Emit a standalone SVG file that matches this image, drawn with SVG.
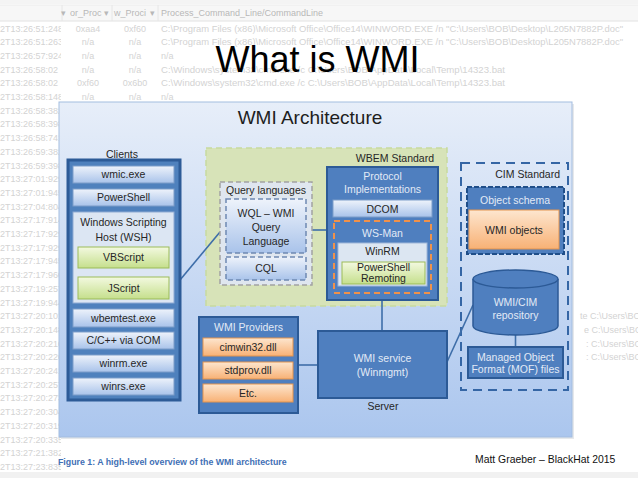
<svg xmlns="http://www.w3.org/2000/svg" width="638" height="478" viewBox="0 0 638 478">
<defs>
<linearGradient id="gFrame" x1="0" y1="0" x2="0" y2="1"><stop offset="0" stop-color="#e7eef9"/><stop offset="1" stop-color="#abc6ee"/></linearGradient>
<linearGradient id="gLight" x1="0" y1="0" x2="0" y2="1"><stop offset="0" stop-color="#eef3fb"/><stop offset="1" stop-color="#a9c3ea"/></linearGradient>
<linearGradient id="gGreen" x1="0" y1="0" x2="0" y2="1"><stop offset="0" stop-color="#f3f9e0"/><stop offset="1" stop-color="#c5df8c"/></linearGradient>
<linearGradient id="gOrange" x1="0" y1="0" x2="0" y2="1"><stop offset="0" stop-color="#fde6cf"/><stop offset="1" stop-color="#f8b175"/></linearGradient>
<clipPath id="c1"><rect x="0" y="22" width="61" height="456"/></clipPath>
<style>
text{font-family:"Liberation Sans",Arial,sans-serif}
.ss{font-size:9px;fill:#d3d3d3}
.hd{font-size:9px;fill:#b8b8b8}
.dk{fill:#262626;font-size:10.5px;text-anchor:middle}
.lt{fill:#e2eaf6;font-size:10.5px;text-anchor:middle}
.blue{fill:#4f7fbf;stroke:#2c5a96;stroke-width:2}
.light{fill:url(#gLight);stroke:#7c9dc9;stroke-width:1}
.green{fill:url(#gGreen);stroke:#9bbb59;stroke-width:1}
.orange{fill:url(#gOrange);stroke:#e3944f;stroke-width:1}
.conn line{stroke:#3e6ea9;stroke-width:1.6}
</style>
</defs>
<rect width="638" height="478" fill="#ffffff"/>
<g id="spreadsheet">
<rect x="0" y="0" width="638" height="4" fill="#f4f4f4"/>
<rect x="0" y="5" width="638" height="16" fill="#f7f7f7"/>
<line x1="0" y1="21" x2="638" y2="21" stroke="#e2e2e2"/>
<line x1="0" y1="5" x2="638" y2="5" stroke="#ececec"/>
<line x1="62" y1="5" x2="62" y2="21" stroke="#e6e6e6"/>
<line x1="112" y1="5" x2="112" y2="21" stroke="#e6e6e6"/>
<line x1="158" y1="5" x2="158" y2="21" stroke="#e6e6e6"/>
<text class="hd" x="61" y="16" font-size="8">▾</text>
<text class="hd" x="70" y="16">or_Proc</text>
<text class="hd" x="104" y="16" font-size="8">▾</text>
<text class="hd" x="114" y="16">w_Proci</text>
<text class="hd" x="150" y="16" font-size="8">▾</text>
<text class="hd" x="161" y="16">Process_Command_Line/CommandLine</text>
<g clip-path="url(#c1)" class="ss">
<text x="0" y="31.5">2T13:26:51:248</text>
<text x="0" y="45.2">2T13:26:51:263</text>
<text x="0" y="58.9">2T13:26:57:924</text>
<text x="0" y="72.6">2T13:26:58:02</text>
<text x="0" y="86.3">2T13:26:58:02</text>
<text x="0" y="100">2T13:26:58:148</text>
<text x="0" y="113.7">2T13:26:58:382</text>
<text x="0" y="127.4">2T13:26:58:398</text>
<text x="0" y="141.1">2T13:26:58:741</text>
<text x="0" y="154.8">2T13:26:59:382</text>
<text x="0" y="168.5">2T13:26:59:398</text>
<text x="0" y="182.2">2T13:27:01:929</text>
<text x="0" y="195.9">2T13:27:01:945</text>
<text x="0" y="209.6">2T13:27:04:804</text>
<text x="0" y="223.3">2T13:27:17:914</text>
<text x="0" y="237">2T13:27:17:929</text>
<text x="0" y="250.7">2T13:27:17:929</text>
<text x="0" y="264.4">2T13:27:17:945</text>
<text x="0" y="278.1">2T13:27:17:960</text>
<text x="0" y="291.8">2T13:27:19:257</text>
<text x="0" y="305.5">2T13:27:19:944</text>
<text x="0" y="319.2">2T13:27:20:101</text>
<text x="0" y="332.9">2T13:27:20:148</text>
<text x="0" y="346.6">2T13:27:20:210</text>
<text x="0" y="360.3">2T13:27:20:226</text>
<text x="0" y="374">2T13:27:20:241</text>
<text x="0" y="387.7">2T13:27:20:257</text>
<text x="0" y="401.4">2T13:27:20:273</text>
<text x="0" y="415.1">2T13:27:20:304</text>
<text x="0" y="428.8">2T13:27:20:319</text>
<text x="0" y="442.5">2T13:27:20:335</text>
<text x="0" y="456.2">2T13:27:21:382</text>
<text x="0" y="469.9">2T13:27:23:835</text>
</g>
<g class="ss" text-anchor="middle">
<text x="88" y="31.5">0xaa4</text><text x="135" y="31.5">0xf60</text>
<text x="88" y="45.2">n/a</text><text x="135" y="45.2">n/a</text>
<text x="88" y="58.9">n/a</text><text x="135" y="58.9">n/a</text>
<text x="88" y="72.6">n/a</text><text x="135" y="72.6">n/a</text>
<text x="88" y="86.3">0xf60</text><text x="135" y="86.3">0x6b0</text>
<text x="88" y="100">n/a</text><text x="135" y="100">n/a</text>
</g>
<g class="ss">
<text x="161" y="31.5" textLength="462" lengthAdjust="spacingAndGlyphs">C:\Program Files (x86)\Microsoft Office\Office14\WINWORD.EXE /n "C:\Users\BOB\Desktop\L205N7882P.doc"</text>
<text x="161" y="45.2" textLength="462" lengthAdjust="spacingAndGlyphs">C:\Program Files (x86)\Microsoft Office\Office14\WINWORD.EXE /n "C:\Users\BOB\Desktop\L205N7882P.doc"</text>
<text x="161" y="58.9">n/a</text>
<text x="161" y="72.6" textLength="344" lengthAdjust="spacingAndGlyphs">C:\Windows\system32\cmd.exe /c C:\Users\BOB\AppData\Local\Temp\14323.bat</text>
<text x="161" y="86.3" textLength="344" lengthAdjust="spacingAndGlyphs">C:\Windows\system32\cmd.exe /c C:\Users\BOB\AppData\Local\Temp\14323.bat</text>
<text x="161" y="100">n/a</text>
<text x="580" y="319.2">te C:\Users\BO</text>
<text x="584" y="332.9">e C:\Users\BO</text>
<text x="586" y="346.6">: C:\Users\BO</text>
<text x="586" y="360.3">: C:\Users\BO</text>
</g>
<rect x="0" y="472" width="638" height="6" fill="#f1f1f1"/>
</g>
<text x="317.5" y="72" font-size="36" text-anchor="middle" fill="#000">What is WMI</text>
<g id="frame">
<rect x="61" y="104" width="513" height="335" fill="#d5d9de" opacity="0.6"/>
<rect x="59" y="102" width="513" height="335" fill="url(#gFrame)" stroke="#a3bde0" stroke-width="1"/>
<text x="310" y="124" font-size="19" text-anchor="middle" fill="#1e1e1e">WMI Architecture</text>
</g>
<g id="wbem-standard">
<rect x="206" y="148" width="241" height="158" fill="#d7e3b8" stroke="#c7da9f" stroke-width="1.5" stroke-dasharray="6 4"/>
<text x="434" y="162" font-size="10.5" text-anchor="end" fill="#262626">WBEM Standard</text>
</g>
<g id="cim-standard">
<rect x="461" y="163" width="107" height="227" fill="none" stroke="#3566a5" stroke-width="2" stroke-dasharray="9 6"/>
<text x="560" y="178" font-size="10.5" text-anchor="end" fill="#262626">CIM Standard</text>
</g>
<g id="connectors" class="conn">
<line x1="180" y1="280" x2="220" y2="232"/>
<line x1="312" y1="230" x2="327" y2="230"/>
<line x1="382" y1="300" x2="382" y2="331"/>
<line x1="298" y1="365" x2="318" y2="365"/>
<line x1="447" y1="362" x2="473" y2="305"/>
<line x1="515.5" y1="335" x2="515.5" y2="347"/>
</g>
<g id="clients">
<text class="dk" x="122" y="158">Clients</text>
<rect x="68" y="160" width="112" height="240" fill="#4f81bd" stroke="#2d5b97" stroke-width="3"/>
<g id="wmic"><rect class="light" x="73" y="166" width="101" height="17"/><text class="dk" x="123.5" y="178">wmic.exe</text></g>
<g id="powershell"><rect class="light" x="73" y="189" width="101" height="17"/><text class="dk" x="123.5" y="201">PowerShell</text></g>
<g id="wsh">
<rect x="73" y="212" width="101" height="91" fill="#dce6f3" stroke="#8fabd4"/>
<text class="dk" x="123.5" y="226">Windows Scripting</text>
<text class="dk" x="123.5" y="241">Host (WSH)</text>
<g id="vbscript"><rect class="green" x="78" y="247" width="91" height="21"/><text class="dk" x="123.5" y="261">VBScript</text></g>
<g id="jscript"><rect class="green" x="78" y="277" width="91" height="22"/><text class="dk" x="123.5" y="292">JScript</text></g>
</g>
<g id="wbemtest"><rect class="light" x="73" y="309" width="101" height="18"/><text class="dk" x="123.5" y="321.5">wbemtest.exe</text></g>
<g id="cpp"><rect class="light" x="73" y="332" width="101" height="17"/><text class="dk" x="123.5" y="344">C/C++ via COM</text></g>
<g id="winrm-exe"><rect class="light" x="73" y="355" width="101" height="17"/><text class="dk" x="123.5" y="367">winrm.exe</text></g>
<g id="winrs-exe"><rect class="light" x="73" y="378" width="101" height="17"/><text class="dk" x="123.5" y="390">winrs.exe</text></g>
</g>
<g id="query-languages">
<rect x="220" y="182" width="92" height="103" fill="#dfe6ef" stroke="#a3a3a3" stroke-width="1.5" stroke-dasharray="5 3"/>
<text class="dk" x="266" y="194">Query languages</text>
<g id="wql"><rect x="226" y="199" width="80" height="54" fill="url(#gLight)" stroke="#6f89b3" stroke-width="1.5" stroke-dasharray="5 3"/>
<text class="dk" x="266" y="217">WQL – WMI</text><text class="dk" x="266" y="231">Query</text><text class="dk" x="266" y="245">Language</text></g>
<g id="cql"><rect x="226" y="257" width="80" height="23" fill="url(#gLight)" stroke="#6f89b3" stroke-width="1.5" stroke-dasharray="5 3"/>
<text class="dk" x="266" y="272">CQL</text></g>
</g>
<g id="protocol-implementations">
<rect class="blue" x="327" y="167" width="111" height="133"/>
<text class="lt" x="382.5" y="180" font-size="10">Protocol</text>
<text class="lt" x="382.5" y="193" font-size="10">Implementations</text>
<g id="dcom"><rect class="light" x="333" y="200" width="99" height="17"/><text class="dk" x="382.5" y="212.5">DCOM</text></g>
<g id="ws-man">
<rect x="334" y="221" width="97" height="72" fill="#4f7fbf" stroke="#f0914a" stroke-width="2" stroke-dasharray="6 4"/>
<text class="lt" x="382.5" y="237">WS-Man</text>
<g id="winrm"><rect x="338" y="243" width="89" height="43" fill="#dce6f2" stroke="#9fb7da"/><text class="dk" x="382.5" y="255">WinRM</text>
<g id="ps-remoting"><rect class="green" x="342" y="262" width="83" height="22"/>
<text class="dk" x="383.5" y="271" font-size="8.5">PowerShell</text><text class="dk" x="383.5" y="282" font-size="8.5">Remoting</text></g></g>
</g>
</g>
<g id="wmi-providers">
<rect class="blue" x="199" y="317" width="99" height="96"/>
<text class="lt" x="248.5" y="331">WMI Providers</text>
<g id="cimwin32"><rect class="orange" x="203" y="338" width="90" height="18"/><text class="dk" x="248" y="350.5">cimwin32.dll</text></g>
<g id="stdprov"><rect class="orange" x="203" y="362" width="90" height="17"/><text class="dk" x="248" y="374">stdprov.dll</text></g>
<g id="etc"><rect class="orange" x="203" y="384" width="90" height="18"/><text class="dk" x="248" y="396.5">Etc.</text></g>
</g>
<g id="wmi-service">
<rect class="blue" x="318" y="331" width="129" height="67"/>
<text class="lt" x="382.5" y="362" font-size="11">WMI service</text>
<text class="lt" x="382.5" y="376" font-size="11">(Winmgmt)</text>
<text class="dk" x="383" y="410">Server</text>
</g>
<g id="object-schema">
<rect x="467" y="187" width="97" height="67" fill="#4f7fbf" stroke="#1f4e89" stroke-width="2" stroke-dasharray="5 2"/>
<text class="lt" x="515" y="204">Object schema</text>
<g id="wmi-objects"><rect class="orange" x="469" y="210" width="90" height="39"/><text class="dk" x="514" y="233.5">WMI objects</text></g>
</g>
<g id="repository">
<path d="M473,279 L473,326 A42.5,9 0 0 0 558,326 L558,279" fill="#4f7fbf" stroke="#2c5a96" stroke-width="1.5"/>
<ellipse cx="515.5" cy="279" rx="42.5" ry="9" fill="#4f7fbf" stroke="#2c5a96" stroke-width="1.5"/>
<text class="lt" x="515.5" y="306">WMI/CIM</text>
<text class="lt" x="515.5" y="319">repository</text>
</g>
<g id="mof">
<rect class="blue" x="468" y="347" width="95" height="31" stroke-width="1.5"/>
<text class="lt" x="515.5" y="360.5" font-size="9.5">Managed Object</text>
<text class="lt" x="515.5" y="373" font-size="9.5">Format (MOF) files</text>
</g>
<text x="58" y="465" font-size="8.8" font-weight="bold" fill="#3f70b5">Figure 1: A high-level overview of the WMI architecture</text>
<text x="475" y="463" font-size="10.4" fill="#111">Matt Graeber – BlackHat 2015</text>
</svg>
